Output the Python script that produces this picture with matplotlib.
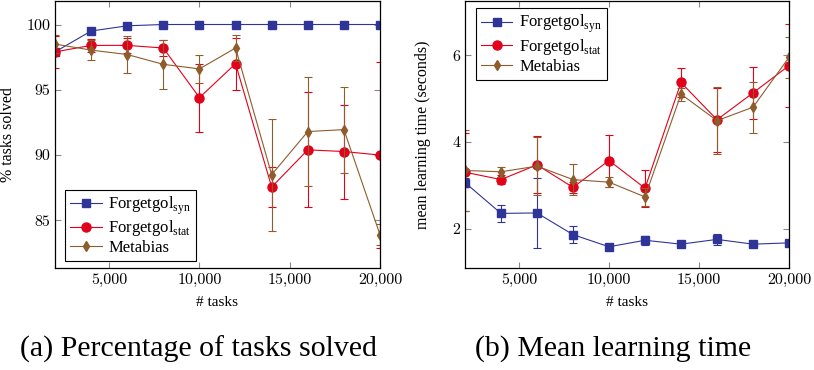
import matplotlib
matplotlib.use("Agg")
import matplotlib.pyplot as plt
from matplotlib.ticker import FuncFormatter

# x positions (# tasks)
tasks = [2000, 4000, 6000, 8000, 10000, 12000, 14000, 16000, 18000, 20000]

# (a) percentage of tasks solved
solved_syn = [97.9, 99.5, 99.9, 100.0, 100.0, 100.0, 100.0, 100.0, 100.0, 100.0]
solved_syn_err = [0.1, 0.1, 0.05, 0.0, 0.0, 0.0, 0.0, 0.0, 0.0, 0.0]
solved_stat = [97.9, 98.4, 98.4, 98.2, 94.4, 97.0, 87.55, 90.4, 90.27, 90.0]
solved_stat_err = [1.2, 0.5, 0.6, 0.6, 2.6, 2.0, 1.5, 4.4, 3.6, 7.1]
solved_meta = [98.5, 98.04, 97.7, 96.95, 96.6, 98.2, 88.5, 91.8, 91.95, 83.9]
solved_meta_err = [0.7, 0.75, 1.4, 1.9, 1.1, 1.0, 4.3, 4.2, 3.3, 0.8]

# (b) mean learning time (seconds)
time_syn = [3.06, 2.35, 2.36, 1.86, 1.58, 1.73, 1.64, 1.75, 1.64, 1.67]
time_syn_err = [0.1, 0.19, 0.8, 0.19, 0.03, 0.1, 0.03, 0.13, 0.03, 0.03]
time_stat = [3.30, 3.13, 3.47, 2.95, 3.57, 2.93, 5.37, 4.51, 5.13, 5.76]
time_stat_err = [0.9, 0.1, 0.66, 0.12, 0.6, 0.43, 0.33, 0.74, 0.6, 0.95]
time_meta = [3.34, 3.31, 3.44, 3.13, 3.07, 2.73, 5.10, 4.49, 4.80, 5.95]
time_meta_err = [0.93, 0.11, 0.67, 0.35, 0.12, 0.2, 0.15, 0.78, 0.59, 0.47]

labels = [r"Forgetgol$_{\mathregular{syn}}$", r"Forgetgol$_{\mathregular{stat}}$", "Metabias"]
colors = ["#2f3597", "#e2001a", "#8f5c2c"]
markers = ["s", "o", "d"]
msizes = [5.5, 6.5, 5]

plt.rcParams["font.family"] = ["Liberation Serif", "DejaVu Serif"]
plt.rcParams["mathtext.fontset"] = "custom"
plt.rcParams["mathtext.rm"] = "Liberation Serif"

fig = plt.figure(figsize=(8.14, 3.70), dpi=100)
ax1 = fig.add_axes([55 / 814, 102 / 370, 325 / 814, 267 / 370])
ax2 = fig.add_axes([465 / 814, 102 / 370, 324 / 814, 267 / 370])

fmt = FuncFormatter(lambda v, p: f"{int(v):,}")


def draw(ax, series, errs):
    for i in range(3):
        ax.errorbar(tasks, series[i], yerr=errs[i], fmt="none", ecolor=colors[i],
                    elinewidth=0.8, capsize=3, capthick=0.8)
        ax.plot(tasks, series[i], color=colors[i], marker=markers[i],
                markersize=msizes[i], linewidth=0.8, label=labels[i])
    ax.set_xlim(2000, 20000)
    ax.set_xticks([5000, 10000, 15000, 20000])
    ax.xaxis.set_major_formatter(fmt)
    ax.tick_params(direction="in", top=True, right=True, length=4,
                   color="#888888", labelsize=11.5)
    for s in ax.spines.values():
        s.set_linewidth(0.9)
    ax.set_xlabel("# tasks", fontsize=11)
    ax.xaxis.set_label_coords(0.5, -0.105)


def legend(ax, loc, anchor):
    leg = ax.legend(loc=loc, bbox_to_anchor=anchor, borderaxespad=0,
                    fontsize=12, fancybox=False, edgecolor="black",
                    handlelength=1.9, handletextpad=0.4, borderpad=0.3,
                    labelspacing=0.1, framealpha=1)
    leg.get_frame().set_linewidth(0.8)


draw(ax1, [solved_syn, solved_stat, solved_meta],
     [solved_syn_err, solved_stat_err, solved_meta_err])
ax1.set_ylim(81.35, 101.8)
ax1.set_yticks([85, 90, 95, 100])
ax1.set_ylabel("% tasks solved", fontsize=11.5)
ax1.yaxis.set_label_coords(-0.12, 0.5)
legend(ax1, "lower left", (0.031, 0.026))

draw(ax2, [time_syn, time_stat, time_meta],
     [time_syn_err, time_stat_err, time_meta_err])
ax2.set_ylim(1.09, 7.25)
ax2.set_yticks([2, 4, 6])
ax2.set_ylabel("mean learning time (seconds)", fontsize=11.5)
ax2.yaxis.set_label_coords(-0.105, 0.5)
legend(ax2, "upper left", (0.033, 0.973))

for ax in (ax1, ax2):
    for lab in ax.get_xticklabels() + ax.get_yticklabels():
        lab.set_fontfamily("cmr10")

fig.text(198 / 814, 1 - 349 / 370, "(a) Percentage of tasks solved",
         ha="center", va="center", fontsize=21.5)
fig.text(613 / 814, 1 - 349 / 370, "(b) Mean learning time",
         ha="center", va="center", fontsize=21.5)

fig.savefig("out.png", dpi=100)
